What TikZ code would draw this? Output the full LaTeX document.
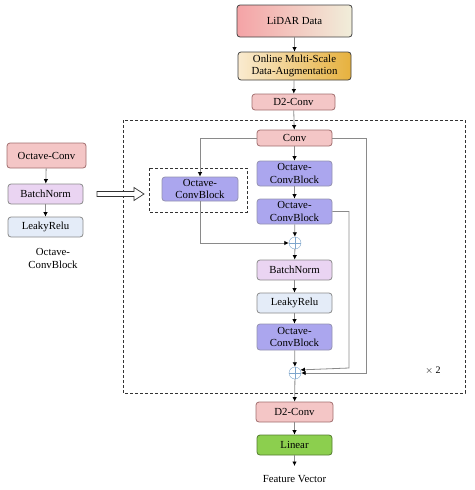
\documentclass[tikz,border=0pt]{standalone}
\usepackage{fontspec}
\setmainfont{Liberation Serif}
\usepackage{tikz}
\usetikzlibrary{arrows,arrows.meta,shapes,positioning}

\definecolor{pinkbox}{HTML}{F4C6C6}
\definecolor{purplebox}{HTML}{ABA6EE}
\definecolor{lavbox}{HTML}{EAD4F2}
\definecolor{bluebox}{HTML}{E4ECF8}
\definecolor{greenbox}{HTML}{8CCF4E}
\definecolor{linegray}{HTML}{8A8A8A}
\definecolor{pluscol}{HTML}{7FA6CC}
\definecolor{lidarleft}{HTML}{F4A3A6}
\definecolor{lidarright}{HTML}{F1EEDA}
\definecolor{augleft}{HTML}{FAEBD0}
\definecolor{augright}{HTML}{E6B13E}

\tikzset{
  blk/.style={draw=linegray, line width=0.8pt, rounded corners=3pt, align=center,
    minimum width=75pt, minimum height=20pt, inner sep=1pt,
    font=\fontsize{10.8}{12.5}\selectfont},
  pinkblk/.style={blk, fill=pinkbox, draw=linegray!80!red},
  octblk/.style={blk, fill=purplebox, draw=purplebox!60!black!70, minimum height=25pt},
  bnblk/.style={blk, fill=lavbox},
  lrblk/.style={blk, fill=bluebox},
  flow/.style={draw=linegray, line width=0.8pt, -{Latex[length=4.5pt,width=4.5pt,black]}},
  plusnode/.style={circle, draw=pluscol, fill=white, minimum size=12pt, inner sep=0pt,
    path picture={\draw[pluscol] (path picture bounding box.north) -- (path picture bounding box.south)
      (path picture bounding box.west) -- (path picture bounding box.east);}},
  dashbox/.style={draw=black!80, line width=1pt, dash pattern=on 3pt off 2pt}
}

\begin{document}
\begin{tikzpicture}[x=1pt,y=-1pt]
            \useasboundingbox (0,0) rectangle (474,490);
            % main column
            \node[blk, minimum width=115pt, minimum height=32pt, left color=lidarleft, right color=lidarright, draw=black!75] (lidar) at (294.5,21) {LiDAR Data};
            \node[blk, minimum width=113pt, minimum height=28pt, left color=augleft, right color=augright, draw=black!75] (aug) at (294.5,66) {Online Multi-Scale\\Data-Augmentation};
            \node[pinkblk, minimum width=83pt, minimum height=16pt] (d2a) at (293.5,102) {D2-Conv};
            \node[pinkblk, minimum height=16pt] (conv) at (294.5,138) {Conv};
            \node[octblk] (ocb1) at (294.5,173.5) {Octave-\\ConvBlock};
            \node[octblk] (ocb2) at (294.5,211.5) {Octave-\\ConvBlock};
            \node[plusnode] (plus1) at (295,243) {};
            \node[bnblk] (bn) at (294.5,270) {BatchNorm};
            \node[lrblk] (lr) at (294.5,303) {LeakyRelu};
            \node[octblk, minimum height=26pt] (ocb3) at (294.5,337) {Octave-\\ConvBlock};
            \node[plusnode] (plus2) at (295,373) {};
            \node[pinkblk, minimum width=77pt] (d2b) at (294.5,412) {D2-Conv};
            \node[blk, fill=greenbox, draw=greenbox!60!black] (lin) at (294.5,445) {Linear};
            \coordinate (out) at (294.5,466);
            \node[font=\fontsize{10.8}{12.5}\selectfont] (fv) at (294.5,479) {Feature Vector};
            \node[font=\fontsize{10}{12}\selectfont] (times) at (433,371) {$\times$ 2};

            \draw[flow] (lidar) -- (aug);
            \draw[flow] (aug) -- (d2a);
            \draw[flow] (d2a) -- (conv);
            \draw[flow] (conv) -- (ocb1);
            \draw[flow] (ocb1) -- (ocb2);
            \draw[flow] (ocb2) -- (plus1);
            \draw[flow] (plus1) -- (bn);
            \draw[flow] (bn) -- (lr);
            \draw[flow] (lr) -- (ocb3);
            \draw[flow] (ocb3) -- (plus2);
            \draw[flow] (plus2) -- (d2b);
            \draw[flow] (d2b) -- (lin);
            \draw[flow] (lin) -- (out);

            % inner branch
            \node[octblk, minimum width=76pt, minimum height=24pt] (iocb) at (200,189) {Octave-\\ConvBlock};
            \draw[dashbox] (149,168) rectangle (247,212);
            \draw[flow] (conv.west) -| (iocb.north);
            \draw[flow] (iocb.south) |- (plus1.west);

            % skip connections
            \draw[flow] (conv.east) -| (366,373) -- (plus2.east);
            \draw[flow] (ocb2.east) -| (349,368) -- (plus2.30);

            \draw[dashbox] (123,120) rectangle (465,393);

            % left legend
            \node[pinkblk, minimum width=79pt, minimum height=25pt] (oc) at (46.5,155.5) {Octave-Conv};
            \node[bnblk] (bnl) at (45.5,194) {BatchNorm};
            \node[lrblk] (lrl) at (45.5,227) {LeakyRelu};
            \node[align=center, font=\fontsize{10.8}{13}\selectfont] (ocbname) at (53,258.5) {Octave-\\ConvBlock};
            \draw[flow] (oc) -- (bnl);
            \draw[flow] (bnl) -- (lrl);
            \draw[draw=black!80, fill=white, line width=0.7pt, line join=miter]
              (97,191.5) -- (134,191.5) -- (134,187.5) -- (144,194) -- (134,200.5) -- (134,196.5) -- (97,196.5) -- cycle;
        \end{tikzpicture}
\end{document}
